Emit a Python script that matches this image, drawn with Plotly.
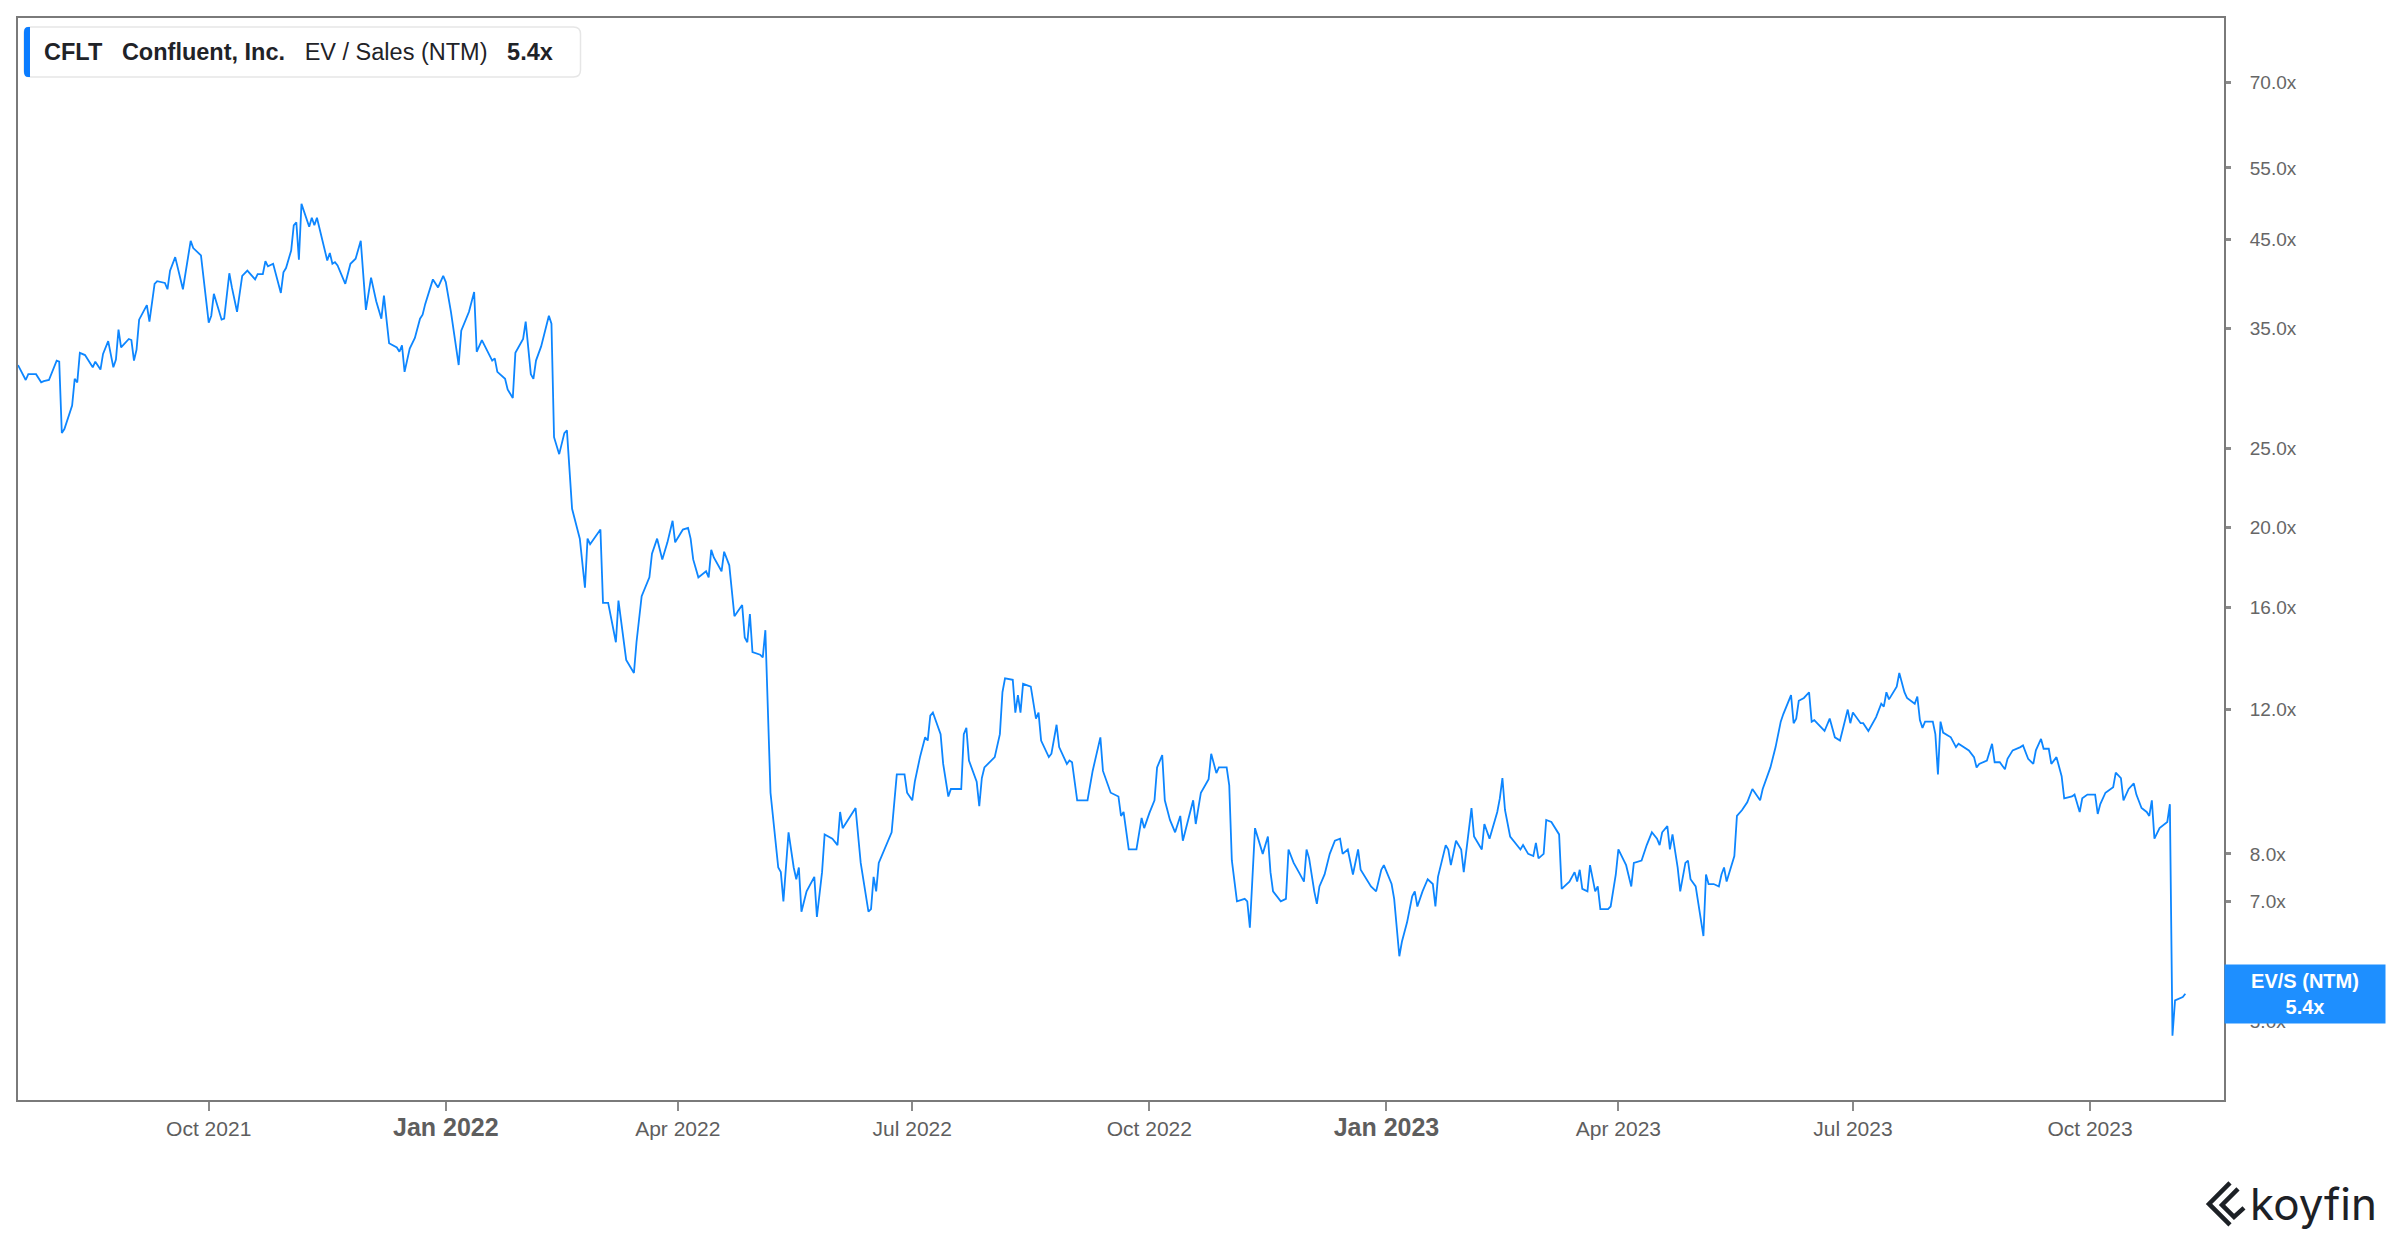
import plotly.graph_objects as go
import math

# ---------------- data ----------------
dates_2021 = [
    "2021-07-19", "2021-07-22", "2021-07-23", "2021-07-26", "2021-07-28", "2021-07-29", "2021-07-31",
    "2021-08-03", "2021-08-04", "2021-08-05", "2021-08-06", "2021-08-09", "2021-08-10", "2021-08-11",
    "2021-08-12", "2021-08-14", "2021-08-17", "2021-08-18", "2021-08-20", "2021-08-21", "2021-08-23",
    "2021-08-25", "2021-08-26", "2021-08-27", "2021-08-28", "2021-08-31", "2021-09-01", "2021-09-02",
    "2021-09-03", "2021-09-04", "2021-09-07", "2021-09-08", "2021-09-10", "2021-09-11", "2021-09-14",
    "2021-09-15", "2021-09-16", "2021-09-18", "2021-09-21", "2021-09-24", "2021-09-25", "2021-09-28",
    "2021-10-01", "2021-10-02", "2021-10-03", "2021-10-06", "2021-10-07", "2021-10-09", "2021-10-10",
    "2021-10-12", "2021-10-14", "2021-10-16", "2021-10-19", "2021-10-20", "2021-10-22", "2021-10-23",
    "2021-10-24", "2021-10-26", "2021-10-29", "2021-10-30", "2021-10-31", "2021-11-02", "2021-11-03",
    "2021-11-04", "2021-11-05", "2021-11-06", "2021-11-09", "2021-11-10", "2021-11-11", "2021-11-12",
    "2021-11-16", "2021-11-17", "2021-11-18", "2021-11-19", "2021-11-20", "2021-11-23", "2021-11-25",
    "2021-11-27", "2021-11-29", "2021-12-01", "2021-12-03", "2021-12-05", "2021-12-07", "2021-12-08",
    "2021-12-09", "2021-12-10", "2021-12-13", "2021-12-14", "2021-12-15", "2021-12-16", "2021-12-18",
    "2021-12-20", "2021-12-22", "2021-12-23", "2021-12-24", "2021-12-27", "2021-12-29", "2021-12-31",
]
values_2021 = [
    31.6, 30.3, 30.8, 30.8, 30.1, 30.2, 30.3,
    32.0, 31.9, 26.1, 26.4, 28.2, 30.4, 30.1,
    32.7, 32.5, 31.4, 31.9, 31.2, 32.6, 33.8,
    31.4, 32.1, 34.9, 33.2, 34.0, 33.9, 32.0,
    33.0, 35.9, 37.4, 35.7, 39.7, 40.0, 39.8,
    39.1, 41.2, 42.8, 39.1, 44.8, 43.9, 43.0,
    35.6, 36.3, 38.6, 35.9, 36.0, 40.9, 39.3,
    36.7, 40.6, 41.2, 40.2, 40.8, 40.8, 42.3,
    41.7, 42.0, 38.7, 41.0, 41.5, 43.6, 46.8,
    47.2, 42.5, 49.7, 46.6, 47.8, 46.8, 47.8,
    42.4, 43.3, 42.0, 42.2, 41.8, 39.7, 42.0,
    42.6, 44.8, 36.9, 40.4, 37.8, 36.0, 38.4,
    35.9, 33.6, 33.2, 32.8, 33.4, 31.0, 33.1,
    34.1, 36.0, 36.4, 37.5, 40.2, 39.3, 40.6,
]

dates_2022 = [
    "2022-01-01", "2022-01-03", "2022-01-06", "2022-01-07", "2022-01-10", "2022-01-12", "2022-01-13",
    "2022-01-15", "2022-01-19", "2022-01-20", "2022-01-21", "2022-01-24", "2022-01-25", "2022-01-27",
    "2022-01-28", "2022-01-31", "2022-02-01", "2022-02-03", "2022-02-04", "2022-02-05", "2022-02-07",
    "2022-02-10", "2022-02-11", "2022-02-12", "2022-02-14", "2022-02-16", "2022-02-17", "2022-02-19",
    "2022-02-22", "2022-02-24", "2022-02-25", "2022-02-26", "2022-03-02", "2022-03-03", "2022-03-05",
    "2022-03-08", "2022-03-09", "2022-03-12", "2022-03-15", "2022-03-16", "2022-03-18", "2022-03-21",
    "2022-03-22", "2022-03-24", "2022-03-26", "2022-03-28", "2022-03-30", "2022-03-31", "2022-04-03",
    "2022-04-05", "2022-04-06", "2022-04-07", "2022-04-09", "2022-04-12", "2022-04-13", "2022-04-14",
    "2022-04-15", "2022-04-18", "2022-04-19", "2022-04-21", "2022-04-23", "2022-04-26", "2022-04-27",
    "2022-04-28", "2022-04-29", "2022-04-30", "2022-05-03", "2022-05-04", "2022-05-05", "2022-05-07",
    "2022-05-10", "2022-05-11", "2022-05-12", "2022-05-14", "2022-05-16", "2022-05-17", "2022-05-18",
    "2022-05-19", "2022-05-21", "2022-05-24", "2022-05-25", "2022-05-27", "2022-05-28", "2022-05-31",
    "2022-06-02", "2022-06-03", "2022-06-04", "2022-06-07", "2022-06-09", "2022-06-11", "2022-06-14",
    "2022-06-15", "2022-06-16", "2022-06-17", "2022-06-18", "2022-06-23", "2022-06-25", "2022-06-28",
    "2022-06-29", "2022-07-01", "2022-07-02", "2022-07-04", "2022-07-06", "2022-07-07", "2022-07-08",
    "2022-07-09", "2022-07-12", "2022-07-13", "2022-07-15", "2022-07-16", "2022-07-20", "2022-07-21",
    "2022-07-22", "2022-07-23", "2022-07-26", "2022-07-27", "2022-07-28", "2022-07-29", "2022-08-02",
    "2022-08-04", "2022-08-05", "2022-08-06", "2022-08-09", "2022-08-10", "2022-08-11", "2022-08-12",
    "2022-08-13", "2022-08-16", "2022-08-18", "2022-08-19", "2022-08-20", "2022-08-23", "2022-08-24",
    "2022-08-26", "2022-08-27", "2022-08-30", "2022-08-31", "2022-09-01", "2022-09-03", "2022-09-07",
    "2022-09-09", "2022-09-12", "2022-09-13", "2022-09-16", "2022-09-19", "2022-09-20", "2022-09-21",
    "2022-09-23", "2022-09-26", "2022-09-28", "2022-09-29", "2022-10-01", "2022-10-03", "2022-10-04",
    "2022-10-06", "2022-10-07", "2022-10-09", "2022-10-11", "2022-10-13", "2022-10-14", "2022-10-18",
    "2022-10-19", "2022-10-21", "2022-10-24", "2022-10-25", "2022-10-27", "2022-10-28", "2022-10-31",
    "2022-11-01", "2022-11-02", "2022-11-04", "2022-11-07", "2022-11-08", "2022-11-09", "2022-11-11",
    "2022-11-14", "2022-11-16", "2022-11-17", "2022-11-18", "2022-11-21", "2022-11-23", "2022-11-24",
    "2022-11-26", "2022-11-28", "2022-11-30", "2022-12-01", "2022-12-02", "2022-12-04", "2022-12-05",
    "2022-12-06", "2022-12-08", "2022-12-10", "2022-12-12", "2022-12-14", "2022-12-15", "2022-12-17",
    "2022-12-19", "2022-12-21", "2022-12-22", "2022-12-26", "2022-12-28", "2022-12-30", "2022-12-31",
]
values_2022 = [
    39.9, 36.7, 31.6, 34.8, 36.7, 38.8, 32.8,
    33.9, 32.0, 32.2, 31.0, 30.4, 29.5, 28.8,
    32.7, 34.0, 35.7, 30.8, 30.4, 32.0, 33.3,
    36.3, 35.5, 25.8, 24.6, 26.1, 26.3, 21.1,
    19.4, 16.9, 19.4, 19.1, 19.9, 16.2, 16.2,
    14.5, 16.3, 13.8, 13.3, 14.5, 16.5, 17.4,
    18.6, 19.4, 18.3, 19.2, 20.4, 19.2, 19.9,
    20.0, 19.4, 18.3, 17.4, 17.7, 17.4, 18.8,
    18.4, 17.7, 18.7, 18.0, 15.6, 16.1, 14.7,
    14.5, 15.7, 14.1, 14.0, 13.9, 15.0, 9.5,
    7.7, 7.6, 7.0, 8.5, 7.7, 7.45, 7.7,
    6.8, 7.2, 7.5, 6.7, 7.6, 8.45, 8.35,
    8.2, 9.0, 8.6, 8.9, 9.1, 7.8, 6.8,
    6.85, 7.5, 7.2, 7.8, 8.5, 10.0, 10.0,
    9.5, 9.3, 9.8, 10.5, 11.1, 11.0, 11.8,
    11.9, 11.2, 10.3, 9.4, 9.6, 9.6, 11.2,
    11.4, 10.4, 9.8, 9.15, 9.9, 10.2, 10.5,
    11.2, 12.6, 13.1, 13.05, 11.9, 12.5, 11.9,
    12.9, 12.8, 11.7, 11.9, 11.0, 10.5, 10.6,
    11.5, 10.8, 10.3, 10.4, 10.35, 9.3, 9.3,
    10.1, 11.1, 10.1, 9.5, 9.4, 8.9, 9.0,
    8.1, 8.1, 8.85, 8.6, 8.97, 9.3, 10.2,
    10.56, 9.3, 8.8, 8.5, 8.9, 8.3, 9.3,
    8.7, 9.5, 9.87, 10.6, 10.04, 10.2, 10.2,
    9.7, 7.86, 7.0, 7.05, 7.0, 6.5, 8.6,
    8.0, 8.4, 7.6, 7.2, 7.0, 7.05, 8.1,
    7.8, 7.6, 7.4, 8.1, 7.9, 7.2, 6.95,
    7.3, 7.55, 8.0, 8.3, 8.35, 8.0, 8.1,
    7.55, 8.1, 7.65, 7.3, 7.2, 7.65, 7.75,
]

dates_2023 = [
    "2023-01-03", "2023-01-04", "2023-01-06", "2023-01-07", "2023-01-09", "2023-01-11", "2023-01-12",
    "2023-01-13", "2023-01-15", "2023-01-17", "2023-01-19", "2023-01-20", "2023-01-21", "2023-01-24",
    "2023-01-25", "2023-01-26", "2023-01-28", "2023-01-30", "2023-01-31", "2023-02-03", "2023-02-04",
    "2023-02-07", "2023-02-08", "2023-02-10", "2023-02-13", "2023-02-14", "2023-02-15", "2023-02-16",
    "2023-02-18", "2023-02-20", "2023-02-22", "2023-02-23", "2023-02-25", "2023-02-27", "2023-02-28",
    "2023-03-01", "2023-03-03", "2023-03-04", "2023-03-06", "2023-03-09", "2023-03-10", "2023-03-13",
    "2023-03-15", "2023-03-16", "2023-03-17", "2023-03-18", "2023-03-20", "2023-03-21", "2023-03-23",
    "2023-03-24", "2023-03-25", "2023-03-28", "2023-03-29", "2023-03-31", "2023-04-01", "2023-04-04",
    "2023-04-06", "2023-04-07", "2023-04-10", "2023-04-12", "2023-04-14", "2023-04-16", "2023-04-17",
    "2023-04-18", "2023-04-20", "2023-04-21", "2023-04-22", "2023-04-24", "2023-04-25", "2023-04-27",
    "2023-04-28", "2023-04-29", "2023-05-01", "2023-05-04", "2023-05-05", "2023-05-06", "2023-05-08",
    "2023-05-10", "2023-05-11", "2023-05-12", "2023-05-13", "2023-05-16", "2023-05-17", "2023-05-19",
    "2023-05-21", "2023-05-23", "2023-05-26", "2023-05-27", "2023-05-30", "2023-06-01", "2023-06-03",
    "2023-06-04", "2023-06-07", "2023-06-08", "2023-06-09", "2023-06-10", "2023-06-12", "2023-06-14",
    "2023-06-15", "2023-06-16", "2023-06-20", "2023-06-22", "2023-06-24", "2023-06-26", "2023-06-29",
    "2023-06-30", "2023-07-01", "2023-07-04", "2023-07-05", "2023-07-07", "2023-07-10", "2023-07-12",
    "2023-07-13", "2023-07-14", "2023-07-15", "2023-07-18", "2023-07-19", "2023-07-21", "2023-07-22",
    "2023-07-25", "2023-07-26", "2023-07-27", "2023-07-28", "2023-07-29", "2023-08-01", "2023-08-02",
    "2023-08-03", "2023-08-04", "2023-08-05", "2023-08-08", "2023-08-10", "2023-08-11", "2023-08-15",
    "2023-08-17", "2023-08-18", "2023-08-19", "2023-08-22", "2023-08-24", "2023-08-25", "2023-08-27",
    "2023-08-29", "2023-08-30", "2023-09-01", "2023-09-04", "2023-09-05", "2023-09-07", "2023-09-09",
    "2023-09-10", "2023-09-12", "2023-09-13", "2023-09-15", "2023-09-16", "2023-09-18", "2023-09-20",
    "2023-09-21", "2023-09-24", "2023-09-25", "2023-09-27", "2023-09-28", "2023-09-30", "2023-10-03",
    "2023-10-04", "2023-10-05", "2023-10-07", "2023-10-10", "2023-10-11", "2023-10-13", "2023-10-14",
    "2023-10-16", "2023-10-18", "2023-10-19", "2023-10-21", "2023-10-23", "2023-10-24", "2023-10-25",
    "2023-10-26", "2023-10-28", "2023-10-31", "2023-11-01", "2023-11-02", "2023-11-03", "2023-11-06",
    "2023-11-07",
]
values_2023 = [
    7.35, 7.05, 6.0, 6.25, 6.6, 7.1, 7.2,
    6.9, 7.2, 7.45, 7.35, 6.9, 7.5, 8.2,
    8.1, 7.75, 8.3, 8.1, 7.6, 9.1, 8.4,
    8.1, 8.7, 8.35, 9.0, 9.35, 9.9, 9.05,
    8.4, 8.25, 8.1, 8.2, 8.0, 7.95, 8.25,
    7.9, 8.0, 8.8, 8.75, 8.45, 7.25, 7.4,
    7.6, 7.4, 7.65, 7.25, 7.2, 7.75, 7.2,
    7.3, 6.85, 6.85, 6.9, 7.55, 8.1, 7.75,
    7.3, 7.8, 7.85, 8.2, 8.5, 8.35, 8.2,
    8.5, 8.65, 8.1, 8.45, 7.7, 7.2, 7.8,
    7.85, 7.45, 7.3, 6.35, 7.55, 7.35, 7.35,
    7.3, 7.55, 7.7, 7.4, 7.95, 8.9, 9.05,
    9.25, 9.6, 9.3, 9.6, 10.2, 10.8, 11.6,
    11.85, 12.5, 11.55, 11.7, 12.3, 12.4, 12.6,
    11.6, 11.65, 11.3, 11.7, 11.1, 11.0, 12.0,
    11.55, 11.9, 11.55, 11.55, 11.3, 11.75, 12.2,
    12.1, 12.6, 12.35, 12.8, 13.3, 12.6, 12.4,
    12.2, 12.45, 11.65, 11.4, 11.6, 11.6, 11.2,
    10.0, 11.6, 11.25, 11.1, 10.8, 10.9, 10.7,
    10.5, 10.2, 10.3, 10.4, 10.9, 10.35, 10.35,
    10.15, 10.45, 10.7, 10.8, 10.85, 10.45, 10.3,
    10.7, 11.05, 10.75, 10.75, 10.3, 10.5, 9.95,
    9.35, 9.4, 9.45, 9.0, 9.35, 9.45, 9.45,
    8.95, 9.2, 9.5, 9.65, 10.05, 9.9, 9.3,
    9.6, 9.75, 9.45, 9.1, 9.0, 8.9, 9.3,
    8.35, 8.6, 8.75, 9.2, 4.8, 5.3, 5.35,
    5.4,
]

dates = dates_2021 + dates_2022 + dates_2023
values = values_2021 + values_2022 + values_2023

ytick_vals = [5, 7, 8, 12, 16, 20, 25, 35, 45, 55, 70]
ytick_text = ["5.0x", "7.0x", "8.0x", "12.0x", "16.0x", "20.0x", "25.0x", "35.0x", "45.0x", "55.0x", "70.0x"]
xtick_vals = ["2021-10-01", "2022-01-01", "2022-04-01", "2022-07-01", "2022-10-01",
              "2023-01-01", "2023-04-01", "2023-07-01", "2023-10-01"]
xtick_labels = ["Oct 2021", "Jan 2022", "Apr 2022", "Jul 2022", "Oct 2022",
                "Jan 2023", "Apr 2023", "Jul 2023", "Oct 2023"]

ticker = "CFLT"
company = "Confluent, Inc."
metric = "EV / Sales (NTM)"
short_metric = "EV/S (NTM)"
last_value = values[-1]

# ---------------- layout geometry ----------------
W, H = 2400, 1240
ML, MR, MT, MB = 8, 184, 9, 148
PW, PH = W - ML - MR, H - MT - MB

def px(xp):
    return (xp - ML) / PW

def py(yp):
    return (H - MB - yp) / PH

LINE_BLUE = "#0d86ff"
FONT = "Liberation Sans, Arial, sans-serif"

xtick_text = []
for lab in xtick_labels:
    if lab.startswith("Jan"):
        xtick_text.append('<span style="font-size:25px"><b>' + lab + '</b></span>')
    else:
        xtick_text.append(lab)

fig = go.Figure()
fig.add_trace(go.Scatter(
    x=dates, y=values, mode="lines",
    line=dict(color=LINE_BLUE, width=1.8),
    showlegend=False, hoverinfo="x+y",
))

fig.update_layout(
    width=W, height=H,
    margin=dict(l=ML, r=MR, t=MT, b=MB),
    paper_bgcolor="white", plot_bgcolor="white",
    font=dict(family=FONT, color="#666666"),
    showlegend=False,
    xaxis=dict(
        type="date",
        range=["2021-07-19", "2023-11-22"],
        tickmode="array", tickvals=xtick_vals, ticktext=xtick_text,
        ticks="outside", ticklen=9, tickwidth=1.5, tickcolor="#8a8a8a",
        tickfont=dict(size=21, color="#5e5e5e"),
        showgrid=False, zeroline=False,
        showline=True, linecolor="#7a7a7a", linewidth=2, mirror=True,
    ),
    yaxis=dict(
        type="log",
        range=[0.6027, math.log10(83.8)],
        side="right",
        tickmode="array", tickvals=ytick_vals, ticktext=ytick_text,
        ticks="outside", ticklen=5, tickwidth=3, tickcolor="#8a8a8a",
        tickfont=dict(size=19, color="#666666"),
        ticklabelstandoff=15,
        showgrid=False, zeroline=False,
        showline=True, linecolor="#7a7a7a", linewidth=2, mirror=True,
    ),
)

# ---- legend box (top-left) ----
bx0, bx1, by0, by1, r = 14, 571, 18, 68, 7
fig.add_shape(type="path", xref="paper", yref="paper",
              path=(f"M {px(bx0 + r)},{py(by0)} L {px(bx1 - r)},{py(by0)} "
                    f"Q {px(bx1)},{py(by0)} {px(bx1)},{py(by0 + r)} "
                    f"L {px(bx1)},{py(by1 - r)} Q {px(bx1)},{py(by1)} {px(bx1 - r)},{py(by1)} "
                    f"L {px(bx0 + r)},{py(by1)} Q {px(bx0)},{py(by1)} {px(bx0)},{py(by1 - r)} "
                    f"L {px(bx0)},{py(by0 + r)} Q {px(bx0)},{py(by0)} {px(bx0 + r)},{py(by0)} Z"),
              line=dict(color="#e6e6e6", width=1.5), fillcolor="white", layer="above")
fig.add_shape(type="path", xref="paper", yref="paper",
              path=(f"M {px(bx0 + 6)},{py(by0)} L {px(bx0 + 6)},{py(by1)} "
                    f"L {px(bx0 + 4)},{py(by1)} Q {px(bx0)},{py(by1)} {px(bx0)},{py(by1 - 5)} "
                    f"L {px(bx0)},{py(by0 + 5)} Q {px(bx0)},{py(by0)} {px(bx0 + 4)},{py(by0)} Z"),
              line=dict(width=0), fillcolor="#0a7cff", layer="above")
sp = "\u00a0\u00a0\u00a0"
fig.add_annotation(
    xref="paper", yref="paper", x=px(32), y=py(43), xanchor="left", yanchor="middle",
    text=f"<b>{ticker}</b>{sp}<b>{company}</b>{sp}{metric}{sp}<b>{last_value:.1f}x</b>",
    showarrow=False, font=dict(size=23.5, color="#1f2328", family=FONT),
)

# ---- last value label on right axis ----
fig.add_annotation(
    xref="paper", yref="y", x=1.0, y=math.log10(last_value),
    xanchor="left", yanchor="middle",
    text=f"<b>{short_metric}</b><br><b>{last_value:.1f}x</b>",
    showarrow=False, align="center",
    font=dict(size=20, color="white", family=FONT),
    bgcolor="#1e8fff", width=160, height=58, borderpad=0,
)

# ---- koyfin logo ----
lw = 4.5
fig.add_shape(type="path", xref="paper", yref="paper",
              path=f"M {px(2222)},{py(1175)} L {px(2201)},{py(1196)} L {px(2222)},{py(1217)}",
              line=dict(color="#1d2126", width=lw), layer="above")
fig.add_shape(type="path", xref="paper", yref="paper",
              path=f"M {px(2230)},{py(1181)} L {px(2214)},{py(1197)} L {px(2226)},{py(1209)} L {px(2236)},{py(1200)}",
              line=dict(color="#1d2126", width=lw), layer="above")
fig.add_annotation(
    xref="paper", yref="paper", x=px(2240), y=py(1196), xanchor="left", yanchor="middle",
    text="koyfin", showarrow=False,
    font=dict(size=44, color="#1d2126", family="Inter, Lato, sans-serif"),
)

fig.write_html("out.html")
